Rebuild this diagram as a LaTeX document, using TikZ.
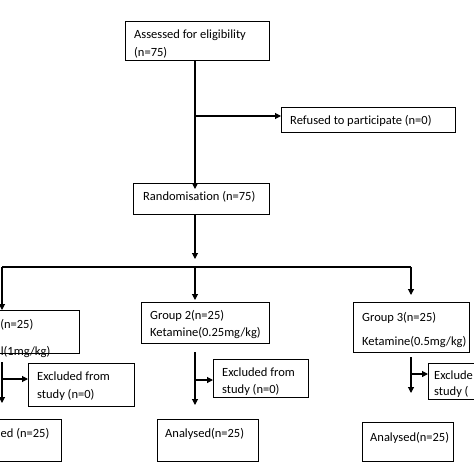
\documentclass[tikz,border=0pt]{standalone}
\usepackage{fontspec}
\setmainfont[Ligatures={NoCommon}]{Carlito}
\usetikzlibrary{arrows.meta}
\tikzset{
  box/.style={draw, line width=1.1pt, inner sep=0pt, anchor=north west, minimum width=#1},
  lbl/.style={anchor=base west, inner sep=0pt, font=\fontsize{12.5}{14}\selectfont},
  conn/.style={line width=1.1pt},
  arr/.style={conn, -{Triangle[length=6pt,width=6pt]}}
}
\begin{document}
\begin{tikzpicture}[x=1pt,y=-1pt]
\useasboundingbox (0,0) rectangle (474,474);
\clip (0,0) rectangle (474,474);
\fill[white] (0,0) rectangle (474,474);
% boxes
\node[box=144pt, minimum height=39pt] (assess) at (125,21) {};
\node[box=174pt, minimum height=25pt] (refused) at (281,107) {};
\node[box=136pt, minimum height=31pt] (rand) at (133,183) {};
\node[box=140pt, minimum height=43pt] (g1) at (-61,310) {};
\node[box=128pt, minimum height=41pt] (g2) at (141,302) {};
\node[box=116pt, minimum height=50pt] (g3) at (353,302) {};
\node[box=106pt, minimum height=43pt] (ex1) at (28,363) {};
\node[box=95pt, minimum height=38pt] (ex2) at (213,359) {};
\node[box=100pt, minimum height=36pt] (ex3) at (428,363) {};
\node[box=101pt, minimum height=42pt] (an1) at (-40,419) {};
\node[box=101pt, minimum height=42pt] (an2) at (157,419) {};
\node[box=91pt, minimum height=39pt] (an3) at (362,422) {};
% texts
\node[lbl] (t1) at (134,38) {Assessed for eligibility};
\node[lbl] (t2) at (134,56) {(n=75)};
\node[lbl] (t3) at (290,124) {Refused to participate (n=0)};
\node[lbl] (t4) at (143,200) {Randomisation (n=75)};
\node[lbl, anchor=base east] (t5) at (33.5,328) {(n=25)};
\node[lbl, anchor=base east] (t6) at (50.5,355) {l(1mg/kg)};
\node[lbl] (t7) at (150,319) {Group 2(n=25)};
\node[lbl] (t8) at (150,336) {Ketamine(0.25mg/kg)};
\node[lbl] (t9) at (362,321) {Group 3(n=25)};
\node[lbl] (t10) at (362,345) {Ketamine(0.5mg/kg)};
\node[lbl] (t11) at (37,380) {Excluded from};
\node[lbl] (t12) at (37,398) {study (n=0)};
\node[lbl] (t13) at (222,376) {Excluded from};
\node[lbl] (t14) at (222,393) {study (n=0)};
\node[lbl] (t15) at (434,379) {Exclude};
\node[lbl] (t16) at (434,395) {study (};
\node[lbl, anchor=base east] (t17) at (49.5,437) {ed (n=25)};
\node[lbl] (t18) at (165,437) {Analysed(n=25)};
\node[lbl] (t19) at (370,441) {Analysed(n=25)};
% connectors
\coordinate (b0) at (195,116);
\coordinate (r0) at (195,259);
\draw[arr] (assess.south -| b0) -- ([yshift=-6pt]rand.north -| b0);
\draw[arr] (b0) -- (b0 -| refused.west);
\draw[arr] (rand.south -| b0) -- (r0);
\coordinate (hl) at (2,267);
\coordinate (hm) at (195,267);
\coordinate (hr) at (411,267);
\draw[conn] (hl) -- (hr);
\draw[arr] (hl) -- (hl |- g1.north);
\draw[arr] (hm) -- ([yshift=2pt]hm |- g2.north);
\draw[arr] (hr) -- ([yshift=7pt]hr |- g3.north);
% below groups
\coordinate (s1) at (2,362);
\coordinate (e1) at (2,403);
\coordinate (s2) at (195,352);
\coordinate (e2) at (195,405);
\coordinate (s3) at (411,357);
\coordinate (e3) at (411,393);
\draw[arr] (s1) -- (e1);
\draw[arr] (s2) -- (e2);
\draw[arr] (s3) -- (e3);
\coordinate (k1) at (2,379);
\coordinate (k2) at (195,380);
\coordinate (k3) at (411,374);
\draw[arr] (k1) -- (k1 -| ex1.west);
\draw[arr] (k2) -- (k2 -| ex2.west);
\draw[arr] (k3) -- (k3 -| ex3.west);
\end{tikzpicture}
\end{document}
